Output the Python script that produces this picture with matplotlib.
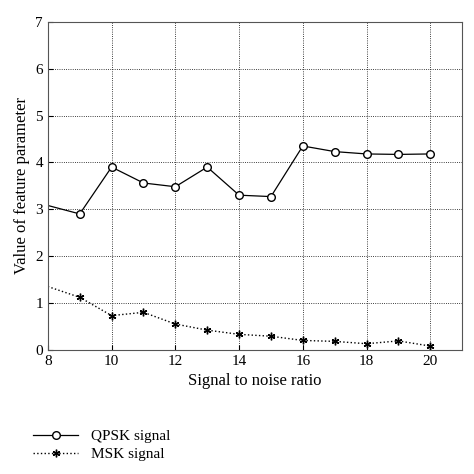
import matplotlib
matplotlib.use("Agg")
from matplotlib import pyplot as plt

plt.rcParams["font.family"] = ["Liberation Serif", "DejaVu Serif"]

snr = [8, 9, 10, 11, 12, 13, 14, 15, 16, 17, 18, 19, 20]
qpsk = [3.08, 2.9, 3.9, 3.56, 3.48, 3.9, 3.3, 3.27, 4.35, 4.23, 4.18, 4.17, 4.18]
msk = [1.35, 1.12, 0.73, 0.8, 0.55, 0.42, 0.33, 0.29, 0.2, 0.18, 0.13, 0.19, 0.08]

fig = plt.figure(figsize=(4.74, 4.74), dpi=100)
ax = fig.add_axes([0.101, 0.262, 0.874, 0.692])

ax.plot(snr, qpsk, "-", color="black", lw=0.9, marker="o", ms=5.5,
        mfc="white", mec="black", markevery=list(range(1, len(snr))),
        label="QPSK signal")
ax.plot(snr, msk, ":", color="black", lw=1.0, marker=(6, 2, 0), ms=5.5,
        markevery=list(range(1, len(snr))), label="MSK signal")

ax.set_xlim(8, 21)
ax.set_ylim(0, 7)
ax.set_xticks([8, 10, 12, 14, 16, 18, 20])
ax.set_yticks(range(8))
ax.grid(True, linestyle=":", color="black", lw=0.6)
for s in ax.spines.values():
    s.set_color("#555555")
ax.tick_params(direction="in", labelsize=11)
ax.set_xlabel("Signal to noise ratio", fontsize=12)
ax.set_ylabel("Value of feature parameter", fontsize=12)

ax.legend(loc="upper left", bbox_to_anchor=(-0.07, -0.2), frameon=False,
          fontsize=11, handlelength=3, labelspacing=0.3)

fig.savefig("out.png", dpi=100)
